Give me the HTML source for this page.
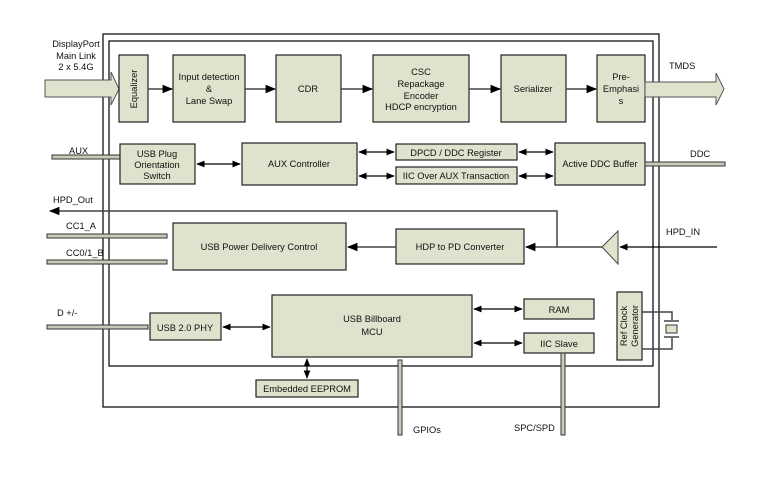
<!DOCTYPE html>
<html><head><meta charset="utf-8"><style>
body{margin:0;background:#fff}
svg{display:block}
text{font-family:"Liberation Sans",Arial,sans-serif;font-size:9.3px;fill:#111}
.b{fill:#dfe2cc;stroke:#222;stroke-width:1.2}
.l{stroke:#444;stroke-width:1.5;fill:none}
.k{stroke:#000;stroke-width:1.2;fill:none}
.p{fill:#c9cbb8;stroke:#333;stroke-width:1}
</style></head><body>
<svg width="771" height="491" viewBox="0 0 771 491" xmlns="http://www.w3.org/2000/svg">
<defs>
<marker id="a" viewBox="0 0 10 10" refX="9" refY="5" markerWidth="7" markerHeight="7" orient="auto-start-reverse"><path d="M0,1 L10,5 L0,9 z" fill="#000"/></marker>
</defs>
<rect x="103" y="34" width="556" height="373" class="k"/>
<rect x="109" y="41" width="544" height="325" class="k"/>

<path d="M45,80 H111 V72 L119,89 L111,105 V97 H45 z" fill="#dfe2cc" stroke="#555"/>
<text x="76" y="47" text-anchor="middle">DisplayPort</text>
<text x="76" y="59" text-anchor="middle">Main Link</text>
<text x="76" y="70" text-anchor="middle">2 x 5.4G</text>

<rect class="b" x="119" y="55" width="29" height="67"/>
<text transform="translate(137,89) rotate(-90)" text-anchor="middle">Equalizer</text>
<rect class="b" x="173" y="55" width="72" height="67"/>
<text x="209" y="80" text-anchor="middle">Input detection</text>
<text x="209" y="92" text-anchor="middle">&amp;</text>
<text x="209" y="104" text-anchor="middle">Lane Swap</text>
<rect class="b" x="276" y="55" width="65" height="67"/>
<text x="308" y="92" text-anchor="middle">CDR</text>
<rect class="b" x="373" y="55" width="96" height="67"/>
<text x="421" y="75" text-anchor="middle">CSC</text>
<text x="421" y="87" text-anchor="middle">Repackage</text>
<text x="421" y="99" text-anchor="middle">Encoder</text>
<text x="421" y="110" text-anchor="middle">HDCP encryption</text>
<rect class="b" x="501" y="55" width="65" height="67"/>
<text x="533" y="92" text-anchor="middle">Serializer</text>
<rect class="b" x="597" y="55" width="48" height="67"/>
<text x="621" y="80" text-anchor="middle">Pre-</text>
<text x="621" y="92" text-anchor="middle">Emphasi</text>
<text x="621" y="104" text-anchor="middle">s</text>
<line class="l" x1="148" y1="89" x2="172" y2="89" marker-end="url(#a)"/>
<line class="l" x1="245" y1="89" x2="275" y2="89" marker-end="url(#a)"/>
<line class="l" x1="341" y1="89" x2="372" y2="89" marker-end="url(#a)"/>
<line class="l" x1="469" y1="89" x2="500" y2="89" marker-end="url(#a)"/>
<line class="l" x1="566" y1="89" x2="596" y2="89" marker-end="url(#a)"/>
<path d="M645,82 H716 V73 L724,89 L716,105 V97 H645 z" fill="#dfe2cc" stroke="#555"/>
<text x="669" y="69">TMDS</text>

<rect class="p" x="52" y="155" width="68" height="4"/>
<text x="69" y="154">AUX</text>
<rect class="b" x="120" y="144" width="75" height="40"/>
<text x="157" y="157" text-anchor="middle">USB Plug</text>
<text x="157" y="168" text-anchor="middle">Orientation</text>
<text x="157" y="179" text-anchor="middle">Switch</text>
<rect class="b" x="242" y="143" width="115" height="42"/>
<text x="299" y="167" text-anchor="middle">AUX Controller</text>
<line class="k" x1="197" y1="164" x2="240" y2="164" marker-start="url(#a)" marker-end="url(#a)"/>
<rect class="b" x="396" y="144" width="121" height="16"/>
<text x="456" y="156" text-anchor="middle">DPCD / DDC Register</text>
<rect class="b" x="396" y="167" width="121" height="17"/>
<text x="456" y="179" text-anchor="middle">IIC Over AUX Transaction</text>
<line class="k" x1="359" y1="152" x2="394" y2="152" marker-start="url(#a)" marker-end="url(#a)"/>
<line class="k" x1="359" y1="176" x2="394" y2="176" marker-start="url(#a)" marker-end="url(#a)"/>
<rect class="b" x="555" y="143" width="90" height="42"/>
<text x="600" y="167" text-anchor="middle">Active DDC Buffer</text>
<line class="k" x1="519" y1="152" x2="553" y2="152" marker-start="url(#a)" marker-end="url(#a)"/>
<line class="k" x1="519" y1="176" x2="553" y2="176" marker-start="url(#a)" marker-end="url(#a)"/>
<rect class="p" x="645" y="162" width="80" height="4"/>
<text x="690" y="157">DDC</text>

<text x="53" y="203">HPD_Out</text>
<polyline class="l" points="557,247 557,211 50,211" marker-end="url(#a)"/>
<text x="66" y="229">CC1_A</text>
<rect class="p" x="47" y="234" width="120" height="4"/>
<text x="66" y="256">CC0/1_B</text>
<rect class="p" x="47" y="260" width="120" height="4"/>
<rect class="b" x="173" y="223" width="173" height="47"/>
<text x="259" y="250" text-anchor="middle">USB Power Delivery Control</text>
<rect class="b" x="396" y="229" width="128" height="35"/>
<text x="460" y="250" text-anchor="middle">HDP to PD Converter</text>
<line class="l" x1="396" y1="247" x2="348" y2="247" marker-end="url(#a)"/>
<line class="l" x1="602" y1="247" x2="526" y2="247" marker-end="url(#a)"/>
<polygon points="602,247 618,231 618,264" fill="#dfe2cc" stroke="#444"/>
<line class="k" x1="717" y1="247" x2="620" y2="247" marker-end="url(#a)"/>
<text x="666" y="235">HPD_IN</text>

<text x="57" y="316">D +/-</text>
<rect class="p" x="47" y="325" width="101" height="4"/>
<rect class="b" x="150" y="313" width="71" height="27"/>
<text x="185" y="331" text-anchor="middle">USB 2.0 PHY</text>
<rect class="b" x="272" y="295" width="200" height="62"/>
<text x="372" y="322" text-anchor="middle">USB Billboard</text>
<text x="372" y="335" text-anchor="middle">MCU</text>
<line class="k" x1="223" y1="327" x2="270" y2="327" marker-start="url(#a)" marker-end="url(#a)"/>
<rect class="b" x="524" y="299" width="70" height="20"/>
<text x="559" y="313" text-anchor="middle">RAM</text>
<rect class="b" x="524" y="333" width="70" height="20"/>
<text x="559" y="347" text-anchor="middle">IIC Slave</text>
<line class="k" x1="474" y1="309" x2="522" y2="309" marker-start="url(#a)" marker-end="url(#a)"/>
<line class="k" x1="474" y1="343" x2="522" y2="343" marker-start="url(#a)" marker-end="url(#a)"/>
<rect class="b" x="617" y="292" width="25" height="68"/>
<text transform="translate(627,326) rotate(-90)" text-anchor="middle">Ref Clock</text>
<text transform="translate(638,326) rotate(-90)" text-anchor="middle">Generator</text>
<polyline class="l" points="642,312 672,312 672,320"/>
<polyline class="l" points="642,349 672,349 672,338"/>
<line class="l" x1="664" y1="321" x2="679" y2="321"/>
<line class="l" x1="664" y1="337" x2="679" y2="337"/>
<rect x="666" y="325" width="11" height="8" fill="#dfe2cc" stroke="#333"/>
<rect class="b" x="256" y="380" width="102" height="17"/>
<text x="307" y="392" text-anchor="middle">Embedded EEPROM</text>
<line class="k" x1="307" y1="359" x2="307" y2="378" marker-start="url(#a)" marker-end="url(#a)"/>
<rect class="p" x="398" y="360" width="4" height="75"/>
<text x="413" y="433">GPIOs</text>
<rect class="p" x="561" y="353" width="4" height="82"/>
<text x="514" y="431">SPC/SPD</text>
</svg>
</body></html>
